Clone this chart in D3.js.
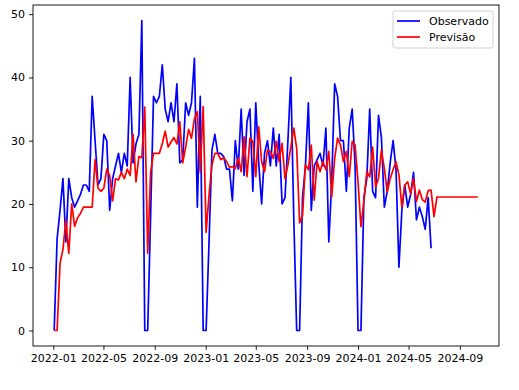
<!DOCTYPE html>
<html>
<head>
<meta charset="utf-8">
<script src="https://cdn.jsdelivr.net/npm/d3@7"></script>
<style>
  body { margin: 0; background: #fff; }
  text { font-family: "DejaVu Sans", sans-serif; }
</style>
</head>
<body>
<svg id="chart"></svg>
<script>
'use strict';

// weekly series, first week starting 2022-01-03
const startWeek = "2022-01-03";

const observado = [
    0, 14.5, 19, 24, 14, 24, 21, 19.5, 20.5, 21.5,
    23, 23, 22, 37, 30, 23, 24, 31, 30, 19,
    24, 26, 28, 25, 28, 26, 40, 26.5, 29.5, 31,
    49, 0, 0, 18, 37, 36, 37, 42, 35, 33,
    36, 33, 39, 26.5, 27, 36, 34, 36, 43, 19.5,
    37, 0, 0, 14, 28.5, 31, 28, 28, 27.5, 25.5,
    25.5, 20.5, 30, 25.5, 35, 24.5, 33, 35, 22, 36,
    26.5, 20, 28, 30, 26, 32, 26, 31, 20, 21,
    30, 40, 18, 0, 0, 21, 26, 36, 19, 26,
    27, 28, 26, 32, 14, 23.5, 39, 37, 30, 30,
    22, 32, 35, 26, 0, 0, 21, 24, 35, 22,
    21, 34, 30.5, 19.5, 22, 26.5, 30, 25.5, 10, 19,
    23, 19.5, 21.5, 25, 17.5, 19.5, 18, 16, 21, 13
];

const previsao = [
    0, 0, 10.6, 12.8, 17.4, 12.2, 20, 16.5, 17.8, 18.5,
    19.5, 19.5, 19.5, 19.5, 27, 22.5, 22, 22.5, 25.5, 24.5,
    20.5, 24, 23.8, 25, 24, 25.5, 24.5, 31, 23.5, 27.5,
    27.3, 35.3, 12.2, 25, 28, 28, 28, 29.5, 31.5, 29,
    29.8, 30.5, 29.5, 33, 26.5, 29, 31.8, 30.4, 33.5, 34.6,
    25, 35.4, 15.5, 21.4, 26.2, 28, 28, 27, 27.3, 26.7,
    25.8, 25.9, 25.6, 27.3, 25.1, 30.6, 24.3, 30.4, 29.9, 24.3,
    32.2, 26.7, 25.1, 28.5, 28.3, 27.2, 29.9, 26.7, 29.6, 24,
    26.2, 29, 32, 28.8, 17, 18.2, 26.2, 25.4, 29.3, 20.6,
    26.7, 25.1, 26.7, 25.4, 28.3, 21.1, 27.2, 30.4, 29.3, 26.7,
    28.3, 24.3, 29.9, 29.3, 23.5, 16.4, 20.4, 25.1, 24.3, 29,
    22.7, 24, 28.5, 25.6, 21.9, 24, 25.4, 26.7, 24.6, 19.5,
    23, 23.5, 21.6, 24, 20.4, 22.2, 20.7, 20.3, 22.1, 22.2,
    18, 21.1, 21.1, 21.1, 21.1, 21.1, 21.1, 21.1, 21.1, 21.1,
    21.1, 21.1, 21.1, 21.1, 21.1, 21.1
];

const yTicks = [0, 10, 20, 30, 40, 50];
const seriesNames = ["Observado", "Previsão"];
const seriesColors = ["blue", "red"];

function drawChart() {
    let margin = { top: 5, right: 20, bottom: 44, left: 33 },
        width = 519 - margin.left - margin.right,
        height = 390 - margin.top - margin.bottom;

    let start = d3.utcParse("%Y-%m-%d")(startWeek);
    let weekDate = (i) => d3.utcDay.offset(start, 7 * i);

    let obsData = observado.map((v, i) => ({ date: weekDate(i), value: v }));
    let prevData = previsao.map((v, i) => ({ date: weekDate(i), value: v }));

    // matplotlib style 5% margins around data
    let xExt = d3.extent(prevData.concat(obsData), d => d.date);
    let xPad = (xExt[1] - xExt[0]) * 0.05;
    let yMax = d3.max(observado.concat(previsao));
    let yMin = d3.min(observado.concat(previsao));
    let yPad = (yMax - yMin) * 0.05;

    let x = d3.scaleUtc()
        .domain([new Date(+xExt[0] - xPad), new Date(+xExt[1] + xPad)])
        .range([0, width]);

    let y = d3.scaleLinear()
        .domain([yMin - yPad, yMax + yPad])
        .range([height, 0]);

    let svg = d3.select("#chart")
        .attr("width", 519)
        .attr("height", 390);

    svg.append("rect")
        .attr("width", 519).attr("height", 390)
        .attr("fill", "#fff");

    let container = svg.append("g")
        .attr("transform", "translate(" + margin.left + "," + margin.top + ")");

    let line = d3.line()
        .x(d => x(d.date))
        .y(d => y(d.value));

    [obsData, prevData].forEach((data, i) => {
        container.append("path")
            .datum(data)
            .attr("fill", "none")
            .attr("stroke", seriesColors[i])
            .attr("stroke-width", 1.7)
            .attr("stroke-linejoin", "round")
            .attr("stroke-linecap", "butt")
            .attr("d", line);
    });

    let xAxis = d3.axisBottom(x)
        .tickValues(x.ticks(d3.utcMonth.every(4)))
        .tickFormat(d3.utcFormat("%Y-%m"))
        .tickSize(3.9)
        .tickPadding(4);

    let yAxis = d3.axisLeft(y)
        .tickValues(yTicks)
        .tickSize(3.9)
        .tickPadding(4);

    let gx = container.append("g")
        .attr("transform", "translate(0," + height + ")")
        .call(xAxis);

    let gy = container.append("g")
        .call(yAxis);

    [gx, gy].forEach(g => {
        g.select(".domain").remove();
        g.selectAll("line").attr("stroke", "#000").attr("stroke-width", 0.9);
        g.selectAll("text")
            .attr("fill", "#000")
            .style("font-size", "11px")
            .style("font-family", "DejaVu Sans");
    });

    // axes frame
    container.append("rect")
        .attr("width", width)
        .attr("height", height)
        .attr("fill", "none")
        .attr("stroke", "#000")
        .attr("stroke-width", 0.9);

    // legend
    let legend = container.append("g")
        .attr("transform", "translate(" + (width - 106) + ",6)");

    legend.append("rect")
        .attr("width", 100)
        .attr("height", 37)
        .attr("rx", 2)
        .attr("fill", "#fff")
        .attr("fill-opacity", 0.8)
        .attr("stroke", "#cccccc")
        .attr("stroke-width", 0.9);

    seriesNames.forEach((name, i) => {
        let row = legend.append("g")
            .attr("transform", "translate(0," + (10 + i * 16) + ")");
        row.append("line")
            .attr("x1", 4).attr("x2", 27)
            .attr("y1", 0).attr("y2", 0)
            .attr("stroke", seriesColors[i])
            .attr("stroke-width", 1.7);
        row.append("text")
            .attr("x", 36)
            .attr("y", 0)
            .attr("dy", "0.35em")
            .style("font-size", "11px")
            .attr("fill", "#000")
            .text(name);
    });
}

drawChart();
</script>
</body>
</html>
